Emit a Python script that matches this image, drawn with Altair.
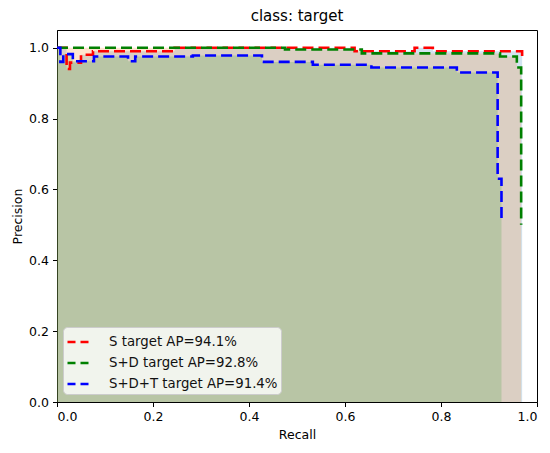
import altair as alt
import pandas as pd

labels = ["S target AP=94.1%", "S+D target AP=92.8%", "S+D+T target AP=91.4%"]
line_colors = ["red", "green", "blue"]
fill_colors = ["#1f77b4", "#ff7f0e", "#2ca02c"]

# S
s_recall = [0.0, 0.02, 0.027, 0.05, 0.075, 0.245, 0.62, 0.745, 0.783, 0.969]
s_precision = [1.0, 0.94, 0.958, 0.98, 0.99, 1.0, 0.99, 1.0, 0.99, 0.97]
# S+D
sd_recall = [0.0, 0.475, 0.635, 0.923, 0.958, 0.967]
sd_precision = [1.0, 0.995, 0.984, 0.975, 0.944, 0.5]
# S+D+T
sdt_recall = [0.0, 0.007, 0.013, 0.033, 0.077, 0.148, 0.163, 0.283, 0.427,
              0.533, 0.655, 0.833, 0.918, 0.926]
sdt_precision = [1.0, 0.96, 0.982, 0.962, 0.975, 0.962, 0.975, 0.978, 0.96,
                 0.952, 0.944, 0.93, 0.63, 0.51]

rows = []
for lab, rec, prec in zip(labels, [s_recall, sd_recall, sdt_recall],
                          [s_precision, sd_precision, sdt_precision]):
    for r, p in zip(rec, prec):
        rows.append({"series": lab, "recall": r, "precision": p})
df = pd.DataFrame(rows)

ticks = [0.0, 0.2, 0.4, 0.6, 0.8, 1.0]
xenc = alt.X("recall:Q", scale=alt.Scale(domain=[0, 1], nice=False),
             axis=alt.Axis(title="Recall", values=ticks, format=".1f"))
yenc = alt.Y("precision:Q", scale=alt.Scale(domain=[0, 1.05], nice=False),
             axis=alt.Axis(title="Precision", values=ticks, format=".1f"))

base = alt.Chart(df)

areas = [
    alt.Chart(df[df.series == lab]).mark_area(
        interpolate="step-after", opacity=0.2, color=fc
    ).encode(x=xenc, y=yenc)
    for lab, fc in zip(labels, fill_colors)
]

lines = base.mark_line(
    interpolate="step-after", strokeDash=[11, 5], strokeWidth=2.6
).encode(
    x=xenc, y=yenc,
    stroke=alt.Stroke(
        "series:N",
        scale=alt.Scale(domain=labels, range=line_colors),
        legend=alt.Legend(
            title=None, orient="none", legendX=6, legendY=297,
            symbolType="stroke", symbolSize=441, symbolStrokeWidth=2.6,
            symbolDash=[8, 5], labelFontSize=13.3, labelFont="DejaVu Sans",
            labelColor="#111", labelOffset=19, labelLimit=0, rowPadding=2,
            padding=3, offset=0,
            fillColor="rgba(255,255,255,0.8)", strokeColor="#cccccc",
            cornerRadius=4,
        ),
    ),
)

chart = alt.layer(*areas, lines).properties(
    width=480, height=372,
    title=alt.TitleParams("class: target", fontSize=15, font="DejaVu Sans",
                          fontWeight="normal", color="#000", offset=6),
    padding={"left": 49, "top": 22, "right": 5, "bottom": 43},
    autosize=alt.AutoSizeParams(type="none"),
).configure_view(stroke="black", strokeWidth=1).configure_axis(
    grid=False, labelFont="DejaVu Sans", titleFont="DejaVu Sans",
    labelFontSize=12.5, titleFontSize=12.5, titleFontWeight="normal",
    labelColor="#000", titleColor="#000", domainColor="black",
    tickColor="black", tickSize=4.5, labelPadding=4, titlePadding=5,
).configure_axisY(titlePadding=4)

chart.save("out.html", embed_options={"renderer": "svg", "actions": False})
